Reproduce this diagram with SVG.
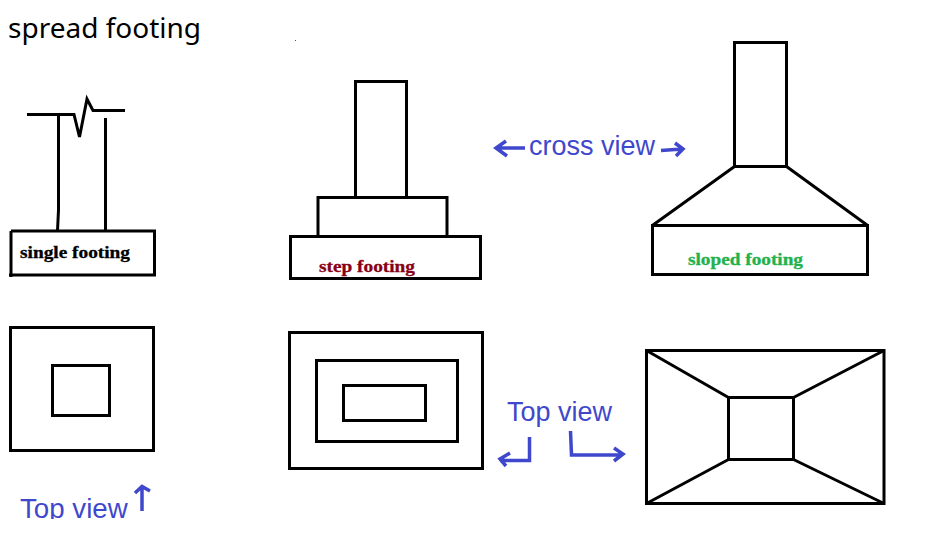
<svg xmlns="http://www.w3.org/2000/svg" width="939" height="541" viewBox="0 0 939 541">
<style>
.s{fill:none;stroke:#000;stroke-width:3}
.a{fill:none;stroke:#3f48cc;stroke-width:3.500}
.v{font-family:"Liberation Sans",Arial,sans-serif;font-size:27px;fill:#3f48cc}
.l{font-family:"Liberation Serif","Times New Roman",serif;font-size:17px;font-weight:bold;stroke-width:.3;paint-order:stroke}
</style>
<rect width="939" height="541" fill="#fff"/>
<text x="8" y="38" font-family="'Noto Sans','Open Sans',sans-serif" font-size="28px" fill="#000">spread footing</text>
<rect x="295" y="40" width="1" height="1" fill="#555"/>
<g id="single-footing">
<path class="s" d="M27 114.500H74L79.500 137L87 99L93 110.500H125M58.500 114.500V210L57.500 231M105.500 118V231"/>
<path class="s" d="M11 231H154.500V275H9M11 231V277"/>
<text class="l" x="20" y="258" fill="#000" stroke="#000" textLength="110" lengthAdjust="spacingAndGlyphs">single footing</text>
</g>
<g id="step-footing">
<rect class="s" x="355.500" y="81.500" width="51" height="116"/>
<path class="s" d="M318 236V197.500H447V236"/>
<rect class="s" x="290.500" y="236.500" width="190" height="42"/>
<text class="l" x="319" y="272" fill="#880015" stroke="#880015" textLength="96" lengthAdjust="spacingAndGlyphs">step footing</text>
</g>
<g id="sloped-footing">
<rect class="s" x="734.500" y="42.500" width="52" height="124"/>
<path class="s" d="M734.500 166.500L653 225M786.500 166.500L867 225"/>
<rect class="s" x="652.500" y="225.500" width="215" height="49"/>
<text class="l" x="688" y="265" fill="#22b14c" stroke="#22b14c" textLength="115" lengthAdjust="spacingAndGlyphs">sloped footing</text>
</g>
<g id="single-top">
<rect class="s" x="10.500" y="327.500" width="143" height="123"/>
<rect class="s" x="52.500" y="365.500" width="57" height="50"/>
</g>
<g id="step-top">
<rect class="s" x="289.500" y="332.500" width="193" height="136"/>
<rect class="s" x="316.500" y="360.500" width="141" height="81"/>
<rect class="s" x="343.500" y="385.500" width="82" height="35"/>
</g>
<g id="sloped-top">
<rect class="s" x="646.500" y="350.500" width="237.500" height="153"/>
<rect class="s" x="728.500" y="397.500" width="65" height="62"/>
<path class="s" d="M646.500 350.500L728.500 397.500M884 350.500L793.500 397.500M646.500 503.500L728.500 459.500M884 503.500L793.500 459.500"/>
</g>
<g id="connectors">
<path class="a" d="M142 488V511M135 493L142 486.500L150 491"/>
<path class="a" d="M525 148H496M506 141L496 148L507 156"/>
<path class="a" d="M661 150.500L682 149M675 143L683 149L676 156"/>
<path class="a" d="M529.500 437V460.500H500M510 453L500 459L506 466"/>
<path class="a" d="M570.500 431L571.500 455H622M614 448L623 454L614 461"/>
</g>
<g id="labels">
<text class="v" x="529" y="155">cross view</text>
<text class="v" x="507" y="421">Top view</text>
<text class="v" x="20" y="518" style="font-size:27.700px">Top view</text>
<rect x="0" y="519" width="200" height="22" fill="#fff"/>
</g>
</svg>
